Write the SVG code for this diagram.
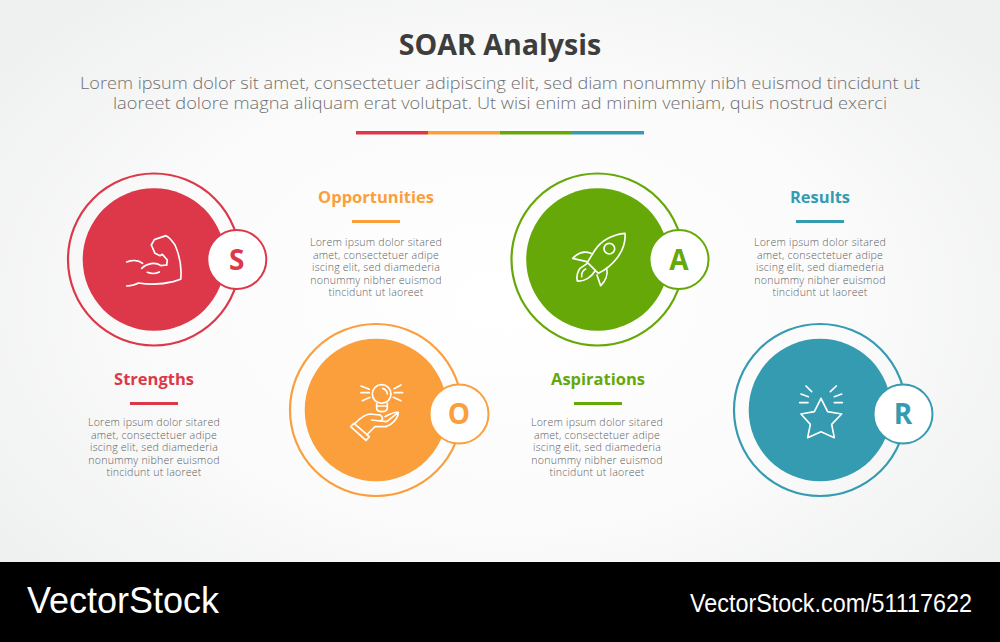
<svg xmlns="http://www.w3.org/2000/svg" width="1000" height="642" viewBox="0 0 1000 642">
<style>
.head{font-family:"Open Sans","Liberation Sans",sans-serif;font-weight:700;text-anchor:middle}
.sub{font-family:"Open Sans","Liberation Sans",sans-serif;font-weight:300;font-size:15.5px;fill:#707070;text-anchor:middle}
.bd{font-family:"Open Sans","Liberation Sans",sans-serif;font-weight:300;font-size:10.6px;letter-spacing:.22px;fill:#5f5f5f;text-anchor:middle}
.t{font-size:16.5px}
.l{font-size:28px}
.ring{fill:none;stroke-width:2.2}
.badge{fill:#fff;stroke-width:2}
.ic{fill:none;stroke:#fff;stroke-width:5;stroke-linecap:round;stroke-linejoin:round}
.wm{font-family:"Liberation Sans",Arial,sans-serif;fill:#fff}
</style>
<defs>
<radialGradient id="bg" cx="50%" cy="47%" r="62%">
<stop offset="0" stop-color="#ffffff"/><stop offset="0.55" stop-color="#fbfbfb"/><stop offset="1" stop-color="#eff0f0"/>
</radialGradient>
</defs>
<rect width="1000" height="642" fill="url(#bg)"/>
<rect y="562" width="1000" height="80" fill="#000"/>
<g id="header">
<text class="head" x="500" y="55" font-size="28.6" fill="#3d3d3d">SOAR Analysis</text>
<text class="sub" x="500" y="88.5" textLength="840" lengthAdjust="spacingAndGlyphs">Lorem ipsum dolor sit amet, consectetuer adipiscing elit, sed diam nonummy nibh euismod tincidunt ut</text>
<text class="sub" x="500" y="108.5" textLength="774" lengthAdjust="spacingAndGlyphs">laoreet dolore magna aliquam erat volutpat. Ut wisi enim ad minim veniam, quis nostrud exerci</text>
<rect x="356" y="131" width="72" height="3.5" fill="#dc3849"/>
<rect x="428" y="131" width="72" height="3.5" fill="#fa9f3c"/>
<rect x="500" y="131" width="72" height="3.5" fill="#65a808"/>
<rect x="572" y="131" width="72" height="3.5" fill="#359bb1"/>
</g>
<g id="connectors"></g>
<g id="node-s">
<circle class="ring" cx="154" cy="259.5" r="86" stroke="#dc3849"/>
<circle cx="154" cy="259.5" r="71.3" fill="#dc3849"/>
<circle class="badge" cx="236.8" cy="259.5" r="29.5" stroke="#dc3849"/>
<text class="head l" x="236.8" y="269.5" fill="#dc3849">S</text>
<g class="ic" transform="translate(60 165) scale(.3333)">
<path d="M200 363C215 362 225 360 235 354C260 358 300 360 340 350L362 343C366 310 358 270 345 240C335 225 325 215 318 212L283 224L274 240L285 265L300 272L307 268L322 285L320 300"/>
<path d="M200 291C215 285 235 285 248 295"/>
<path d="M245 310C260 295 285 290 303 302L320 300"/>
<path d="M262 322C275 327 288 326 298 321"/>
</g>
<text class="head t" x="154" y="385" fill="#dc3849">Strengths</text>
<rect x="130" y="402" width="48" height="3" fill="#dc3849"/>
<text class="bd" x="154" y="426">Lorem ipsum dolor sitared</text>
<text class="bd" x="154" y="438.5">amet, consectetuer adipe</text>
<text class="bd" x="154" y="451">iscing elit, sed diamederia</text>
<text class="bd" x="154" y="463.5">nonummy nibher euismod</text>
<text class="bd" x="154" y="476">tincidunt ut laoreet</text>
</g>
<g id="node-o">
<circle class="ring" cx="376" cy="410" r="86" stroke="#fa9f3c"/>
<circle cx="376" cy="410" r="71.3" fill="#fa9f3c"/>
<circle class="badge" cx="459" cy="414" r="29.5" stroke="#fa9f3c"/>
<text class="head l" x="459" y="424" fill="#fa9f3c">O</text>
<g class="ic" transform="translate(280 320) scale(.3333)">
<circle cx="305" cy="222" r="28"/>
<path d="M290 250V265Q290 275 305 275Q322 275 322 265V250M290 258H322M308 205Q320 208 322 222"/>
<path d="M243 198L268 208M243 218H268M247 242L270 232M363 195L342 206M368 218H343M363 242L340 232"/>
<path d="M212 320L222 310L268 350L258 361Z"/>
<path d="M225 310C240 295 255 283 270 282L300 285C310 290 310 300 300 303L275 300M300 303L320 305L355 277C340 275 325 285 315 290M355 277C355 295 335 315 318 320L285 320L260 345"/>
</g>
<text class="head t" x="376" y="203" fill="#fa9f3c">Opportunities</text>
<rect x="352" y="220" width="48" height="3" fill="#fa9f3c"/>
<text class="bd" x="376" y="246">Lorem ipsum dolor sitared</text>
<text class="bd" x="376" y="258.5">amet, consectetuer adipe</text>
<text class="bd" x="376" y="271">iscing elit, sed diamederia</text>
<text class="bd" x="376" y="283.5">nonummy nibher euismod</text>
<text class="bd" x="376" y="296">tincidunt ut laoreet</text>
</g>
<g id="node-a">
<circle class="ring" cx="597.5" cy="259.5" r="86" stroke="#65a808"/>
<circle cx="597.5" cy="259.5" r="71.3" fill="#65a808"/>
<circle class="badge" cx="679" cy="259.5" r="29.5" stroke="#65a808"/>
<text class="head l" x="679" y="269.5" fill="#65a808">A</text>
<g class="ic" transform="translate(505 165) scale(.3333)">
<path d="M360 205C325 208 290 225 270 255L247 292L280 325C320 305 365 260 360 205Z"/>
<circle cx="313" cy="251" r="16"/>
<path d="M247 295L225 310C215 325 215 340 217 348C240 350 260 335 270 318"/>
<path d="M258 265C240 258 220 262 203 280L245 290"/>
<path d="M305 310C310 330 300 350 287 362L276 330"/>
<path d="M230 335C228 325 235 315 242 312"/>
</g>
<text class="head t" x="598" y="385" fill="#65a808">Aspirations</text>
<rect x="574" y="402" width="48" height="3" fill="#65a808"/>
<text class="bd" x="597" y="426">Lorem ipsum dolor sitared</text>
<text class="bd" x="597" y="438.5">amet, consectetuer adipe</text>
<text class="bd" x="597" y="451">iscing elit, sed diamederia</text>
<text class="bd" x="597" y="463.5">nonummy nibher euismod</text>
<text class="bd" x="597" y="476">tincidunt ut laoreet</text>
</g>
<g id="node-r">
<circle class="ring" cx="820" cy="410" r="86" stroke="#359bb1"/>
<circle cx="820" cy="410" r="71.3" fill="#359bb1"/>
<circle class="badge" cx="903" cy="414" r="29.5" stroke="#359bb1"/>
<text class="head l" x="903" y="424" fill="#359bb1">R</text>
<g class="ic" transform="translate(725 320) scale(.3333)">
<path d="M288 235L308 275L350 282L320 313L328 353L288 335L248 353L256 313L228 282L268 275Z"/>
<path d="M243 198L260 215M228 222L250 230M224 248H249M334 198L316 215M350 222L328 230M352 248H328"/>
</g>
<text class="head t" x="820" y="203" fill="#359bb1">Results</text>
<rect x="796" y="220" width="48" height="3" fill="#359bb1"/>
<text class="bd" x="820" y="246">Lorem ipsum dolor sitared</text>
<text class="bd" x="820" y="258.5">amet, consectetuer adipe</text>
<text class="bd" x="820" y="271">iscing elit, sed diamederia</text>
<text class="bd" x="820" y="283.5">nonummy nibher euismod</text>
<text class="bd" x="820" y="296">tincidunt ut laoreet</text>
</g>
<g id="watermark">
<text class="wm" x="27" y="613" font-size="36" textLength="192" lengthAdjust="spacingAndGlyphs">VectorStock</text>
<text class="wm" x="690" y="612" font-size="25" textLength="282" lengthAdjust="spacingAndGlyphs">VectorStock.com/51117622</text>
</g>
</svg>
